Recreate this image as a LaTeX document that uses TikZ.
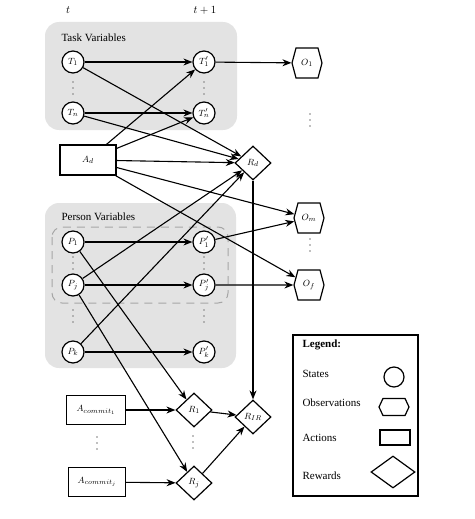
\documentclass[tikz,border=0pt]{standalone}
\usepackage{fontspec}
\setmainfont{Liberation Serif}
\usetikzlibrary{shapes.geometric,shapes.symbols,arrows.meta}
\begin{document}
\begin{tikzpicture}[x=1pt,y=-1pt,
 every node/.style={font=\fontsize{9.5}{11}\selectfont},
 st/.style={circle,draw,line width=1.2pt,minimum size=22pt,inner sep=0pt,fill=white},
 obs/.style={signal,signal to=east and west,signal pointer angle=150,draw,line width=1.2pt,minimum width=30pt,minimum height=30pt,inner sep=0pt,fill=white},
 act/.style={rectangle,draw,line width=1.2pt,minimum width=56pt,minimum height=30pt,inner sep=0pt,fill=white},
 rew/.style={diamond,draw,line width=1.2pt,minimum width=36pt,minimum height=34pt,inner sep=0pt,fill=white},
 arr/.style={-{Stealth[length=9pt,width=7pt]},line width=1.1pt},
 grp/.style={fill=black!11,rounded corners=14pt},
 dotc/.style={fill=black!50},
 lbl/.style={font=\fontsize{11}{13}\selectfont}]

\useasboundingbox (0,0) rectangle (474,519);

% group backgrounds
\fill[grp] (45,22) rectangle (237,130);
\fill[grp] (45,203) rectangle (236,368);
\draw[black!35,line width=1pt,dash pattern=on 8pt off 6pt,rounded corners=10pt] (52,227) rectangle (228,303);

% headers
\node[lbl] (tlab) at (68,10) {$t$};
\node[lbl] (t1lab) at (205,10) {$t+1$};
\node[lbl,anchor=west] (tv) at (58,38) {Task Variables};
\node[lbl,anchor=west] (pv) at (58,217) {Person Variables};

% task variables
\node[st] (T1) at (73,62) {$T_1$};
\node[st] (Tn) at (73,113) {$T_n$};
\node[st] (T1p) at (204,62) {$T_1'$};
\node[st] (Tnp) at (204,113) {$T_n'$};

% person variables
\node[st] (P1) at (73,242) {$P_1$};
\node[st] (Pj) at (73,285) {$P_j$};
\node[st] (Pk) at (73,352) {$P_k$};
\node[st] (P1p) at (204,242) {$P_1'$};
\node[st] (Pjp) at (204,285) {$P_j'$};
\node[st] (Pkp) at (204,352) {$P_k'$};

% observations
\node[obs] (O1) at (307,63) {$O_1$};
\node[obs] (Om) at (309,218) {$O_m$};
\node[obs] (Of) at (309,285) {$O_f$};

% actions
\node[act] (Ad) at (88,160) {$A_d$};
\node[act,minimum width=59pt,minimum height=29pt] (Ac1) at (96,410) {$A_{commit_1}$};
\node[act,minimum width=57pt,minimum height=29pt] (Acj) at (97,482) {$A_{commit_j}$};

% rewards
\node[rew] (Rd) at (253,163) {$R_d$};
\node[rew] (R1) at (194,410) {$R_1$};
\node[rew] (Rj) at (194,483) {$R_j$};
\node[rew] (RIR) at (253,417) {$R_{IR}$};

% dots
\fill[dotc] (73,82) circle (0.8) (73,88) circle (0.8) (73,94) circle (0.8);
\fill[dotc] (204,82) circle (0.8) (204,88) circle (0.8) (204,94) circle (0.8);
\fill[dotc] (310,114) circle (0.8) (310,120) circle (0.8) (310,126) circle (0.8);
\fill[dotc] (310,239) circle (0.8) (310,245) circle (0.8) (310,251) circle (0.8);
\fill[dotc] (73,257) circle (0.8) (73,263) circle (0.8) (73,269) circle (0.8);
\fill[dotc] (204,257) circle (0.8) (204,263) circle (0.8) (204,269) circle (0.8);
\fill[dotc] (73,310) circle (0.8) (73,316) circle (0.8) (73,322) circle (0.8);
\fill[dotc] (204,310) circle (0.8) (204,316) circle (0.8) (204,322) circle (0.8);
\fill[dotc] (97,437) circle (0.8) (97,443) circle (0.8) (97,449) circle (0.8);
\fill[dotc] (193,436) circle (0.8) (193,442) circle (0.8) (193,448) circle (0.8);

% edges
\draw[arr] (T1) -- (T1p);
\draw[arr] (Tn) -- (Tnp);
\draw[arr] (T1) -- (Rd);
\draw[arr] (Tn) -- (Rd);
\draw[arr] (Ad) -- (T1p);
\draw[arr] (Ad) -- (Tnp);
\draw[arr] (Ad) -- (Rd);
\draw[arr] (Ad) -- (Om);
\draw[arr] (Ad) -- (Of);
\draw[arr] (T1p) -- (O1);
\draw[arr] (P1) -- (P1p);
\draw[arr] (Pj) -- (Pjp);
\draw[arr] (Pk) -- (Pkp);
\draw[arr] (Pj) -- (Rd);
\draw[arr] (Pk) -- (Rd);
\draw[arr] (P1p) -- (Om);
\draw[arr] (Pjp) -- (Of);
\draw[arr] (P1) -- (R1);
\draw[arr] (Pj) -- (Rj);
\draw[arr] (Rd) -- (RIR);
\draw[arr] (Ac1) -- (R1);
\draw[arr] (Acj) -- (Rj);
\draw[arr] (R1) -- (RIR);
\draw[arr] (Rj) -- (RIR);

% legend
\draw[line width=1.2pt] (293,335) rectangle (418,496);
\node[lbl,anchor=west,font=\fontsize{11}{13}\selectfont\bfseries] (lg) at (299,345) {Legend:};
\node[lbl,anchor=west] (lst) at (299,374) {States};
\node[lbl,anchor=west] (lob) at (299,403) {Observations};
\node[lbl,anchor=west] (lac) at (299,438) {Actions};
\node[lbl,anchor=west] (lre) at (299,476) {Rewards};
\node[st,minimum size=20pt] (ls) at (394,377) {};
\node[obs,minimum width=30pt,minimum height=17pt,signal pointer angle=130] (lo) at (394,407) {};
\node[act,minimum width=30pt,minimum height=15pt] (la) at (395,437.5) {};
\node[rew,minimum width=44pt,minimum height=32pt] (lr) at (393,472) {};
\end{tikzpicture}
\end{document}
